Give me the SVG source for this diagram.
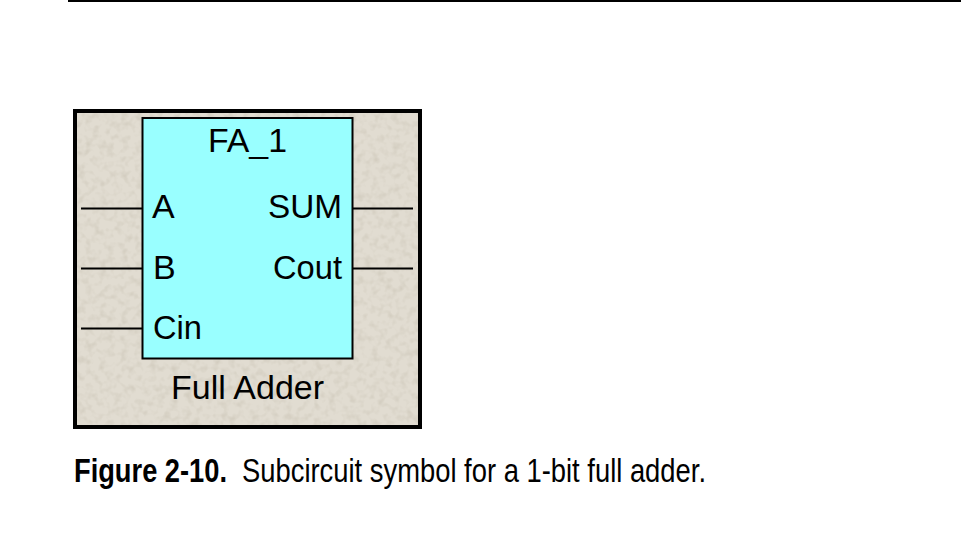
<svg xmlns="http://www.w3.org/2000/svg" width="961" height="544" viewBox="0 0 961 544">
<style>
text{font-family:"Liberation Sans",Arial,sans-serif;fill:#000}
.l{font-size:34px}
.w{stroke:#000;stroke-width:2;fill:none}
.c{font-size:33px}
</style>
<defs>
<filter id="speck" x="0" y="0" width="100%" height="100%" color-interpolation-filters="sRGB">
<feTurbulence type="fractalNoise" baseFrequency="0.14" numOctaves="2" seed="7"/>
<feColorMatrix type="matrix" values="0 0 0 0 0.70  0 0 0 0 0.67  0 0 0 0 0.60  1.6 0 0 0 -0.72"/>
</filter>
</defs>
<rect width="961" height="544" fill="#fff"/>
<rect x="68" y="0" width="893" height="2" fill="#000"/>
<g id="frame">
<rect x="75" y="111" width="345" height="316" fill="#e1dcd1"/>
<rect x="77" y="113" width="341" height="312" filter="url(#speck)" opacity="0.45"/>
<rect x="75" y="111" width="345" height="316" fill="none" stroke="#000" stroke-width="4"/>
</g>
<g id="connectors">
<path class="w" d="M81 208.500H143M81 268.500H143M81 328.500H143M352 208.500H413M352 268.500H413"/>
</g>
<g id="fa1">
<rect x="142.500" y="118" width="210" height="240.500" fill="#99ffff" stroke="#000" stroke-width="2"/>
<text class="l" x="208" y="152" textLength="79" lengthAdjust="spacingAndGlyphs">FA_1</text>
<text class="l" x="152" y="218">A</text>
<text class="l" x="153" y="279">B</text>
<text class="l" x="153" y="339" textLength="49" lengthAdjust="spacingAndGlyphs">Cin</text>
<text class="l" x="268" y="218" textLength="74" lengthAdjust="spacingAndGlyphs">SUM</text>
<text class="l" x="273" y="279" textLength="69" lengthAdjust="spacingAndGlyphs">Cout</text>
</g>
<g id="label">
<text class="l" x="171" y="399" textLength="153" lengthAdjust="spacingAndGlyphs">Full Adder</text>
</g>
<g id="caption">
<text class="c" x="74" y="482" font-weight="700" textLength="153" lengthAdjust="spacingAndGlyphs">Figure 2-10.</text>
<text class="c" x="242" y="482" textLength="464" lengthAdjust="spacingAndGlyphs">Subcircuit symbol for a 1-bit full adder.</text>
</g>
</svg>
